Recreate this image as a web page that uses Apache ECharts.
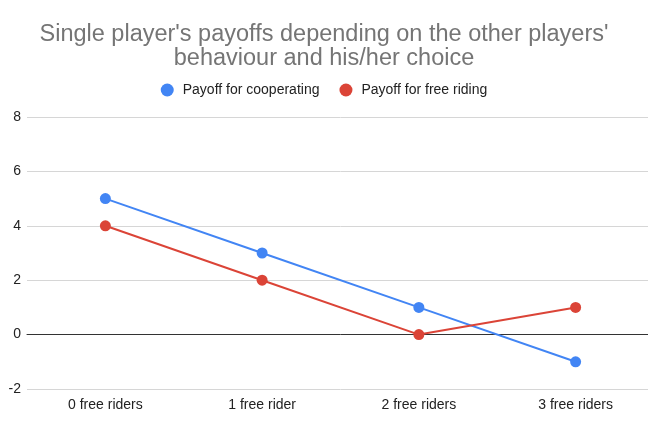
<!DOCTYPE html>
<html><head><meta charset="utf-8">
<script src="https://cdn.jsdelivr.net/npm/echarts@6/dist/echarts.min.js"></script>
<style>html,body{margin:0;padding:0;background:#fff;overflow:hidden;width:648px;height:432px}#c{width:660px;height:432px;margin-left:-6px}</style>
</head><body><div id="c"></div>
<script>
const categories = ['0 free riders', '1 free rider', '2 free riders', '3 free riders'];
const cooperating = [5, 3, 1, -1];
const freeRiding = [4, 2, 0, 1];
const seriesNames = ['Payoff for cooperating', 'Payoff for free riding'];
const titleText = "Single player's payoffs depending on the other players'\nbehaviour and his/her choice";

const chart = echarts.init(document.getElementById('c'));
const font = 'Arial, "Liberation Sans", sans-serif';
chart.setOption({
  animation: false,
  title: {
    text: titleText, left: 'center', top: 18,
    textStyle: { fontFamily: font, fontSize: 23.5, fontWeight: 'normal', color: '#757575', lineHeight: 24 }
  },
  legend: {
    top: 78, left: 'center', icon: 'circle', itemWidth: 13, itemHeight: 13, itemGap: 20,
    textStyle: { fontFamily: font, fontSize: 14, color: '#222', padding: [0, 0, 0, 4] }
  },
  grid: { left: 33, top: 117, width: 627, height: 272, containLabel: false },
  xAxis: {
    type: 'category', data: categories, boundaryGap: true,
    axisLine: { show: true, onZero: true, lineStyle: { color: '#333', width: 1 } },
    axisTick: { show: false },
    axisLabel: { fontFamily: font, fontSize: 14, color: '#222', margin: 9 },
    splitLine: { show: false }
  },
  yAxis: {
    type: 'value', min: -2, max: 8, interval: 2,
    axisLine: { show: false }, axisTick: { show: false },
    axisLabel: { fontFamily: font, fontSize: 14, color: '#222', margin: 6 },
    splitLine: { lineStyle: { color: '#d6d6d6', width: 1 } }
  },
  series: [
    { name: seriesNames[0], type: 'line', data: cooperating, color: '#4285F4',
      symbol: 'circle', symbolSize: 11, lineStyle: { width: 2 } },
    { name: seriesNames[1], type: 'line', data: freeRiding, color: '#DB4437',
      symbol: 'circle', symbolSize: 11, lineStyle: { width: 2 } }
  ]
});
</script></body></html>
